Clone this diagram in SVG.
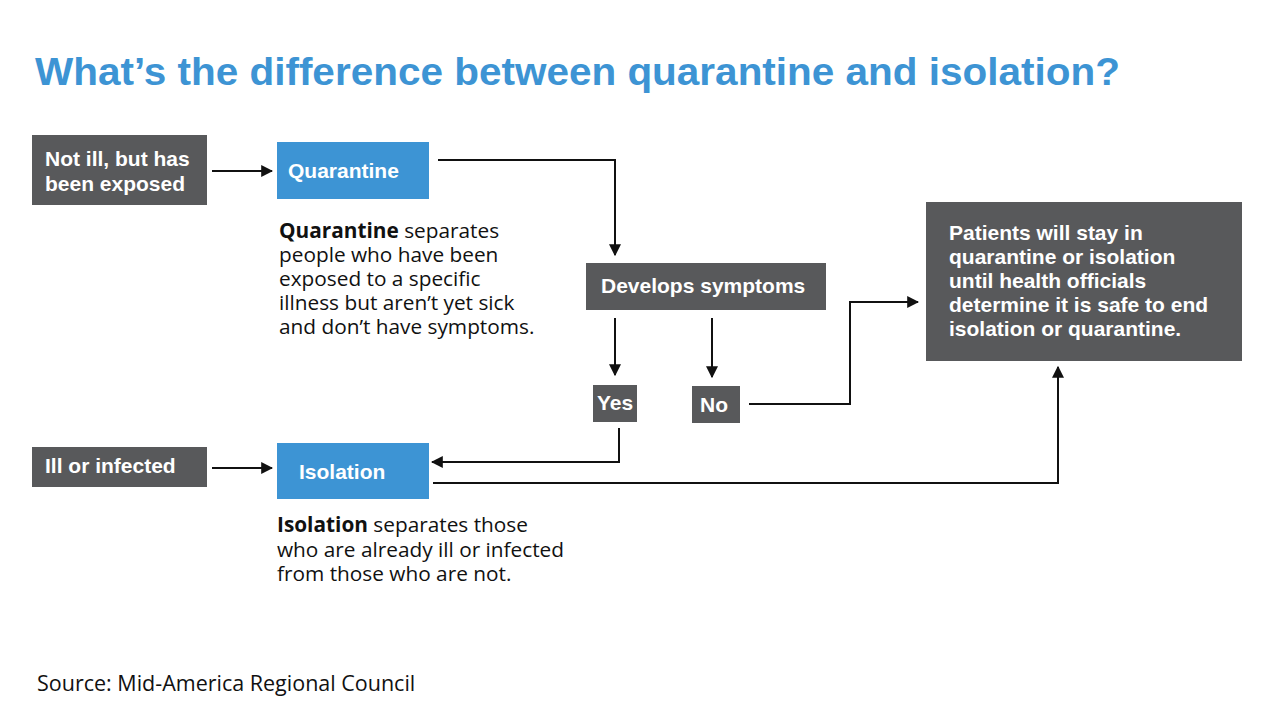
<svg xmlns="http://www.w3.org/2000/svg" width="1280" height="720" viewBox="0 0 1280 720">
<style>
.d{fill:#58595b}.b{fill:#3d94d4}
.w{fill:#fff;font:bold 21px "Liberation Sans",Arial,sans-serif}
.t{fill:#111;font:20.8px "Open Sans","Liberation Sans",sans-serif}
.c{fill:none;stroke:#111;stroke-width:2;marker-end:url(#a)}
</style>
<defs><marker id="a" viewBox="0 0 10 10" refX="9" refY="5" markerWidth="6" markerHeight="6" orient="auto"><path d="M0,0L10,5L0,10z" fill="#111"/></marker></defs>
<rect width="1280" height="720" fill="#fff"/>
<text x="35" y="85" fill="#3d94d4" font-family="Liberation Sans,Arial,sans-serif" font-weight="bold" font-size="39" textLength="1085" lengthAdjust="spacingAndGlyphs">What’s the difference between quarantine and isolation?</text>
<g id="exposed"><rect class="d" x="32" y="135" width="175" height="70"/><text class="w" x="45" y="166">Not ill, but has</text><text class="w" x="45" y="191">been exposed</text></g>
<g id="quarantine"><rect class="b" x="277" y="142" width="152" height="57"/><text class="w" x="288" y="178">Quarantine</text>
<text class="t" x="279" y="238"><tspan font-weight="bold">Quarantine</tspan> separates</text>
<text class="t" x="279" y="262">people who have been</text>
<text class="t" x="279" y="286">exposed to a specific</text>
<text class="t" x="279" y="310">illness but aren’t yet sick</text>
<text class="t" x="279" y="334">and don’t have symptoms.</text></g>
<g id="symptoms"><rect class="d" x="586" y="263" width="240" height="47"/><text class="w" x="601" y="293">Develops symptoms</text></g>
<g id="yes"><rect class="d" x="593" y="385" width="44" height="37"/><text class="w" x="597" y="410">Yes</text></g>
<g id="no"><rect class="d" x="692" y="386" width="48" height="37"/><text class="w" x="700" y="412">No</text></g>
<g id="patients"><rect class="d" x="926" y="202" width="316" height="159"/>
<text class="w" x="949" y="240">Patients will stay in</text>
<text class="w" x="949" y="264">quarantine or isolation</text>
<text class="w" x="949" y="288">until health officials</text>
<text class="w" x="949" y="312">determine it is safe to end</text>
<text class="w" x="949" y="336">isolation or quarantine.</text></g>
<g id="ill"><rect class="d" x="32" y="447" width="175" height="40"/><text class="w" x="45" y="473">Ill or infected</text></g>
<g id="isolation"><rect class="b" x="277" y="443" width="152" height="56"/><text class="w" x="299" y="479">Isolation</text>
<text class="t" x="277" y="532"><tspan font-weight="bold">Isolation</tspan> separates those</text>
<text class="t" x="277" y="557">who are already ill or infected</text>
<text class="t" x="277" y="581">from those who are not.</text></g>
<g id="connectors">
<path class="c" d="M212,171H272"/>
<path class="c" d="M438,160H615V255"/>
<path class="c" d="M615,318V375"/>
<path class="c" d="M712,318V377"/>
<path class="c" d="M749,404H850V302H918"/>
<path class="c" d="M619,428V462H432"/>
<path class="c" d="M212,468H272"/>
<path class="c" d="M433,483H1058V367"/>
</g>
<text x="37" y="691" fill="#111" font-family="Open Sans,Liberation Sans,sans-serif" font-size="21.5">Source: Mid-America Regional Council</text>
</svg>
